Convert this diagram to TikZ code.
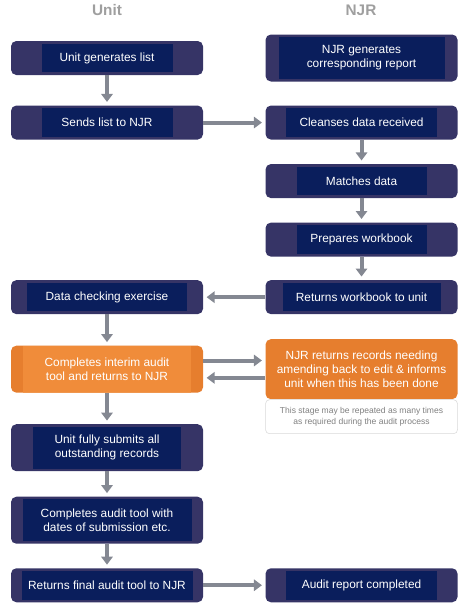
\documentclass[tikz,border=0pt]{standalone}
\usepackage{fontspec}
\setmainfont{Liberation Sans}
\usepackage{xcolor}
\usepackage{tikz}
\usetikzlibrary{positioning,arrows.meta}
\definecolor{frame}{RGB}{54,52,102}
\definecolor{navy}{RGB}{10,30,92}
\definecolor{darkorange}{RGB}{230,126,46}
\definecolor{lightorange}{RGB}{240,140,58}
\definecolor{flowgray}{RGB}{132,136,146}
\tikzset{
  stepbox/.style={rounded corners=4pt, fill=frame, text=white, align=center,
              minimum width=144pt, minimum height=25.5pt, inner sep=0pt,
              font=\fontsize{8.9}{10.7}\selectfont,
              path picture={\fill[navy, sharp corners]
                ([xshift=-#1*0.375pt, yshift=2pt]path picture bounding box.south) rectangle
                ([xshift=#1*0.375pt, yshift=-2pt]path picture bounding box.north);}},
  tallbox/.style={stepbox=#1, minimum height=35.25pt},
  interimbox/.style={tallbox=168, fill=darkorange,
              path picture={\fill[lightorange, sharp corners]
                ([xshift=-63pt]path picture bounding box.south) rectangle
                ([xshift=63pt]path picture bounding box.north);}},
  orangebox/.style={rounded corners=4pt, fill=darkorange, text=white, align=center,
              minimum width=144pt, minimum height=45pt, inner sep=0pt,
              font=\fontsize{8.9}{10.7}\selectfont},
  notebox/.style={rounded corners=3pt, draw=gray!30, fill=white, text=gray,
              align=center, minimum width=144pt, minimum height=25.5pt, inner sep=0pt,
              font=\fontsize{6.4}{8}\selectfont},
  colhead/.style={text=gray!75, font=\fontsize{11.5}{13}\selectfont\bfseries},
  flow/.style={-{Triangle[length=6pt,width=8.5pt]}, line width=3pt, flowgray, shorten >=2.5pt},
}

\begin{document}
\begin{tikzpicture}[x=0.75pt, y=-0.75pt, node distance=18pt and 46.5pt]
  \useasboundingbox (0,0) rectangle (474,611);

  \node[colhead] (unit) at (107,10) {Unit};
  \node[colhead] (njr) at (361,10) {NJR};

  % unit side
  \node[stepbox=131] (gen) at (107,58) {Unit generates list};
  \node[stepbox=131, below=22.5pt of gen] (send) {Sends list to NJR};

  % njr side
  \node[tallbox=166, right=of gen] (report) {NJR generates\\corresponding report};
  \node[stepbox=151, right=of send] (cleanse) {Cleanses data received};
  \node[stepbox=130, below=of cleanse] (match) {Matches data};
  \node[stepbox=130, below=of match] (prep) {Prepares workbook};
  \node[stepbox=158, below=17.25pt of prep] (retwb) {Returns workbook to unit};

  \node[stepbox=160, left=of retwb] (check) {Data checking exercise};
  \node[interimbox, below=23.25pt of check] (interim) {Completes interim audit\\tool and returns to NJR};
  \node[orangebox, right=of interim] (amend) {NJR returns records needing\\amending back to edit \& informs\\unit when this has been done};
  \node[notebox, below=0pt of amend] (note) {This stage may be repeated as many times\\as required during the audit process};
  \node[tallbox=148, below=23.25pt of interim] (submit) {Unit fully submits all\\outstanding records};
  \node[tallbox=169, below=18.75pt of submit] (dates) {Completes audit tool with\\dates of submission etc.};
  \node[stepbox=171, below=18pt of dates] (final) {Returns final audit tool to NJR};
  \node[stepbox=151, right=of final] (done) {Audit report completed};

  \draw[flow] (gen) -- (send);
  \draw[flow] (send) -- (cleanse);
  \draw[flow] (cleanse) -- (match);
  \draw[flow] (match) -- (prep);
  \draw[flow] (prep) -- (retwb);
  \draw[flow] (retwb) -- (check);
  \draw[flow] (check) -- (interim);
  \draw[flow] ([yshift=6.5pt]interim.east) -- ([yshift=6.5pt]interim.east -| amend.west);
  \draw[flow] ([yshift=-6.5pt]interim.east -| amend.west) -- ([yshift=-6.5pt]interim.east);
  \draw[flow] (interim) -- (submit);
  \draw[flow] (submit) -- (dates);
  \draw[flow] (dates) -- (final);
  \draw[flow] (final) -- (done);
\end{tikzpicture}
\end{document}
